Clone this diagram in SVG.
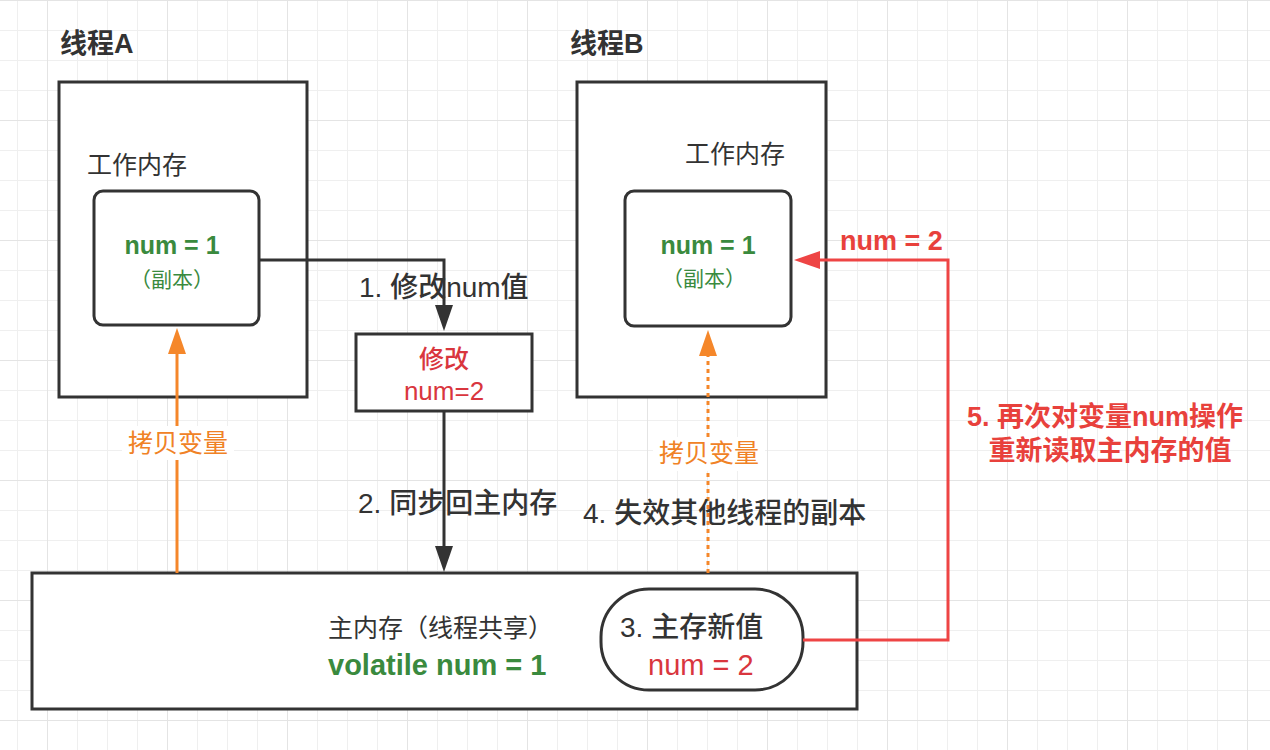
<svg xmlns="http://www.w3.org/2000/svg" width="1270" height="750" viewBox="0 0 1270 750">
  <defs>
    <pattern id="minor" x="17" y="0" width="30" height="30" patternUnits="userSpaceOnUse">
      <path d="M0,0 V30 M0,0 H30" fill="none" stroke="#efefef" stroke-width="2"/>
    </pattern>
    <pattern id="major" x="47" y="0" width="120" height="120" patternUnits="userSpaceOnUse">
      <path d="M0,0 V120 M0,0 H120" fill="none" stroke="#e4e4e4" stroke-width="2"/>
    </pattern>
    <marker id="ahBlack" viewBox="0 0 26 18" refX="1" refY="9" markerWidth="26" markerHeight="18" markerUnits="userSpaceOnUse" orient="auto">
      <path d="M0,0 L26,9 L0,18 Z" fill="#333333"/>
    </marker>
    <marker id="ahOrange" viewBox="0 0 26 18" refX="1" refY="9" markerWidth="26" markerHeight="18" markerUnits="userSpaceOnUse" orient="auto">
      <path d="M0,0 L26,9 L0,18 Z" fill="#f5872a"/>
    </marker>
    <marker id="ahRed" viewBox="0 0 26 18" refX="1" refY="9" markerWidth="26" markerHeight="18" markerUnits="userSpaceOnUse" orient="auto">
      <path d="M0,0 L26,9 L0,18 Z" fill="#ee4444"/>
    </marker>
  </defs>
  <style>
    text { font-family: "Liberation Sans", "Noto Sans CJK SC", sans-serif; }
    .box { fill: #ffffff; stroke: #333333; stroke-width: 3; }
    .title { font-size: 27px; font-weight: bold; fill: #333333; }
    .lbl { font-size: 25px; fill: #333333; }
    .step { font-size: 28px; font-weight: 500; fill: #333333; }
    .green { fill: #3a8a3e; }
    .greenb { fill: #3a8a3e; font-weight: bold; }
    .red { fill: #d9363e; }
    .redb { fill: #e8413c; font-weight: bold; }
    .orange { fill: #f08226; }
    .conn { fill: none; stroke-width: 3; }
  </style>

  <rect width="1270" height="750" fill="#ffffff"/>
  <rect width="1270" height="750" fill="url(#minor)"/>
  <rect width="1270" height="750" fill="url(#major)"/>

  <g id="threadA">
    <text class="title" x="60" y="53">线程A</text>
    <rect class="box" x="59" y="82" width="248" height="315"/>
    <text class="lbl" x="87" y="174">工作内存</text>
  </g>
  <g id="copyA">
    <rect class="box" x="94" y="191" width="165" height="134" rx="9"/>
    <text class="greenb" x="172" y="254" font-size="25" text-anchor="middle">num = 1</text>
    <text class="green" x="172" y="287" font-size="21" text-anchor="middle">（副本）</text>
  </g>

  <g id="threadB">
    <text class="title" x="570" y="53">线程B</text>
    <rect class="box" x="577" y="82" width="249" height="315"/>
    <text class="lbl" x="685" y="163">工作内存</text>
  </g>
  <g id="copyB">
    <rect class="box" x="625" y="191" width="166" height="135" rx="9"/>
    <text class="greenb" x="708" y="254" font-size="25" text-anchor="middle">num = 1</text>
    <text class="green" x="704" y="286" font-size="21" text-anchor="middle">（副本）</text>
  </g>

  <g id="modify">
    <rect class="box" x="356" y="334" width="176" height="77"/>
    <text class="red" x="444" y="368" font-size="25" font-weight="500" text-anchor="middle">修改</text>
    <text class="red" x="444" y="400" font-size="26" text-anchor="middle">num=2</text>
  </g>

  <g id="mainMemory">
    <rect class="box" x="32" y="573" width="825" height="136"/>
    <text class="lbl" x="328" y="637">主内存（线程共享）</text>
    <text class="greenb" x="328" y="675" font-size="29">volatile num = 1</text>
  </g>

  <g id="newValue">
    <rect class="box" x="601" y="589" width="202" height="101" rx="48"/>
    <text class="step" x="620" y="637">3. 主存新值</text>
    <text class="red" x="648" y="675" font-size="29">num = 2</text>
  </g>

  <g id="connectors">
    <path class="conn" stroke="#333333" d="M259,260 H444 V306" marker-end="url(#ahBlack)"/>
    <path class="conn" stroke="#333333" d="M444,411 V547" marker-end="url(#ahBlack)"/>
    <path class="conn" stroke="#f5872a" d="M177,573 V353" marker-end="url(#ahOrange)"/>
    <path class="conn" stroke="#f5872a" stroke-dasharray="4 4" d="M708,573 V355" marker-end="url(#ahOrange)"/>
    <path class="conn" stroke="#ee4444" d="M803,640 H948 V260 H819" marker-end="url(#ahRed)"/>

    <text class="step" x="359" y="297">1. 修改num值</text>
    <text class="step" x="358" y="513">2. 同步回主内存</text>
    <text class="step" x="583" y="523">4. 失效其他线程的副本</text>
    <rect x="122" y="426" width="112" height="34" fill="#ffffff"/>
    <text class="orange" x="178" y="452" font-size="25" text-anchor="middle">拷贝变量</text>
    <rect x="653" y="437" width="112" height="34" fill="#ffffff"/>
    <text class="orange" x="709" y="462" font-size="25" text-anchor="middle">拷贝变量</text>
    <text class="redb" x="840" y="250" font-size="27">num = 2</text>
    <text class="redb" x="1105" y="426" font-size="27" text-anchor="middle">5. 再次对变量num操作</text>
    <text class="redb" x="1110" y="460" font-size="27" text-anchor="middle">重新读取主内存的值</text>
  </g>
</svg>
